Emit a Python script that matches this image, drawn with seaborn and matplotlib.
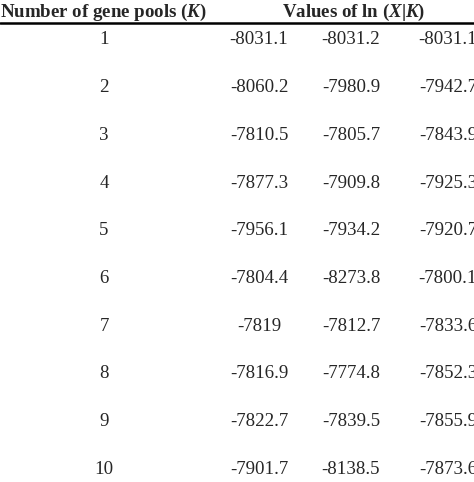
import seaborn as sns
import matplotlib.pyplot as plt

# Table values: ln(X|K) for each number of gene pools
k_values = list(range(1, 11))
run1 = ["-8031.1", "-8060.2", "-7810.5", "-7877.3", "-7956.1", "-7804.4", "-7819", "-7816.9", "-7822.7", "-7901.7"]
run2 = ["-8031.2", "-7980.9", "-7805.7", "-7909.8", "-7934.2", "-8273.8", "-7812.7", "-7774.8", "-7839.5", "-8138.5"]
run3 = ["-8031.1", "-7942.7", "-7843.9", "-7925.3", "-7920.7", "-7800.1", "-7833.6", "-7852.3", "-7855.9", "-7873.6"]

sns.set_theme(style="white")
plt.rcParams['font.family'] = ['Liberation Serif', 'DejaVu Serif']
plt.rcParams['mathtext.fontset'] = 'custom'
plt.rcParams['mathtext.rm'] = 'Liberation Serif:bold'
plt.rcParams['mathtext.bf'] = 'Liberation Serif:bold'
plt.rcParams['mathtext.it'] = 'Liberation Serif:bold:italic'

fig = plt.figure(figsize=(4.74, 4.82), dpi=100)
ax = fig.add_axes([0, 0, 1, 1])
ax.set_xlim(0, 474)
ax.set_ylim(482, 0)
ax.axis('off')

fs = 13.6
ax.text(0, 12, r'Number of gene pools ($\mathit{K}$)', fontsize=fs, fontweight='bold', va='center', ha='left')
ax.text(354, 12, r'Values of ln ($\mathit{X}$|$\mathit{K}$)', fontsize=fs, fontweight='bold', va='center', ha='center')
ax.plot([0, 474], [23, 23], color='black', lw=1.8)

col_x = [104, 259, 351, 448]
row_y0, row_dy = 40, 47.7
for i, k in enumerate(k_values):
    y = row_y0 + i * row_dy
    for x, val in zip(col_x, [str(k), run1[i], run2[i], run3[i]]):
        ax.text(x, y, val, fontsize=fs, va='center', ha='center')

fig.savefig('out.png', dpi=100)
